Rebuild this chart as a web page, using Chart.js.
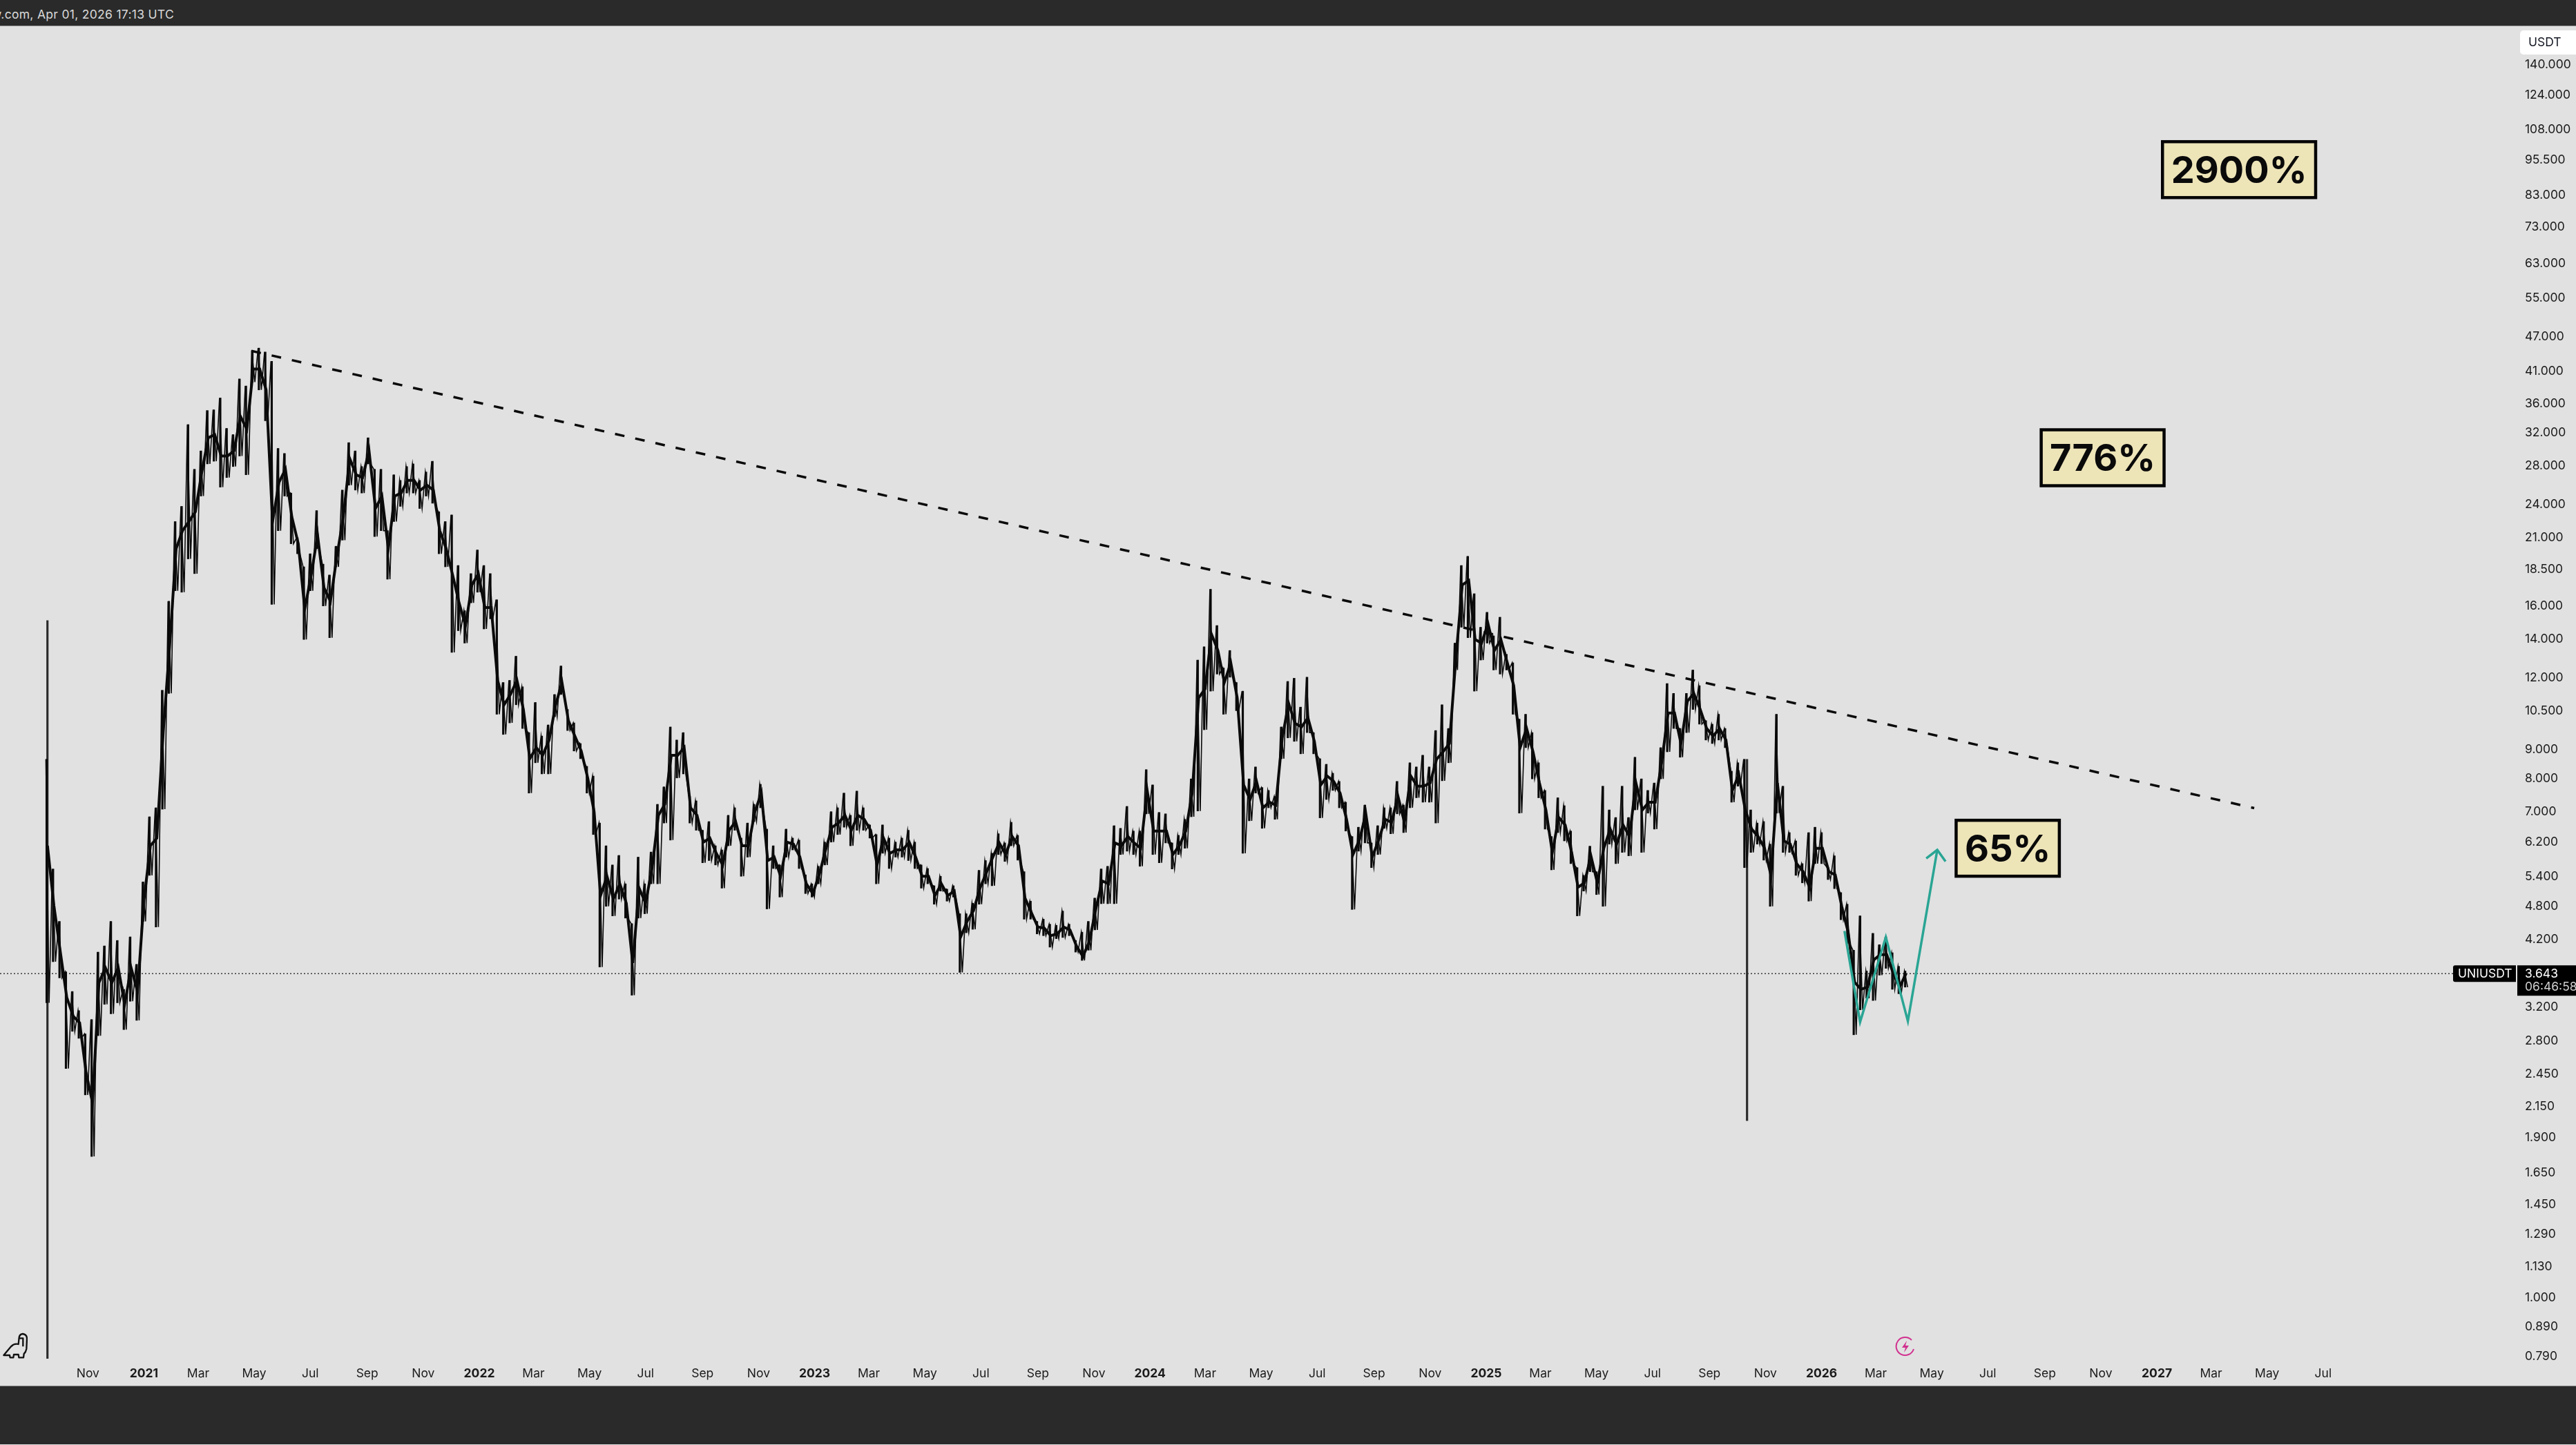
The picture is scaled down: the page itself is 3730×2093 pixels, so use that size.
<!DOCTYPE html>
<html>
<head>
<meta charset="utf-8">
<title>UNIUSDT</title>
<script src="https://cdn.jsdelivr.net/npm/chart.js@4"></script>
<style>
  html, body { margin:0; padding:0; background:#e1e1e1; overflow:hidden; }
  body { width:3730px; height:2093px; position:relative; font-family:Inter, "Liberation Sans", sans-serif; }
  #topbar { position:absolute; left:0; top:0; width:3730px; height:37px; background:#2a2a2a; border-bottom:1px solid #8a8a8a; overflow:hidden; }
  #stamp { position:absolute; right:3478px; top:10px; color:#d9d9d9; font-size:17.5px; line-height:22px; white-space:nowrap; letter-spacing:.3px; }
  #botbar { position:absolute; left:0; top:2007px; width:3730px; height:85px; background:#2a2a2a; border-top:1px solid #8a8a8a; box-sizing:border-box; }
  canvas { position:absolute; left:0; top:0; }
  svg { position:absolute; }
</style>
</head>
<body>
<canvas id="priceChart" width="3730" height="2093"></canvas>
<div id="topbar"><div id="stamp">TradingView.com, Apr 01, 2026 17:13 UTC</div></div>
<div id="botbar"></div>
<svg style="left:4px;top:1930px" width="36" height="39" viewBox="10 240 108 115" fill="none" stroke="#111" stroke-width="7" stroke-linejoin="round">
  <path d="M14 338 L46 300 Q60 285 78 290 L80 270 Q80 246 97 245 Q115 248 115 265 L113 310 Q110 325 102 332 L100 348 L80 348 L78 335 L58 335 L56 348 L42 348 L40 338 Z"/>
  <path d="M80 264 L98 264 L98 300"/>
</svg>
<svg style="left:2744px;top:1935px" width="30" height="30" viewBox="0 0 30 30" fill="none" stroke="#d1308f" stroke-width="2">
  <path d="M24 6 A13 13 0 1 0 27 19"/>
  <path d="M17 7 L10 17 L15 17 L13 24 L20 14 L15 14 Z" fill="#d1308f" stroke="none"/>
</svg>
<script>
// ====== data ======
// weekly candles, first one is the listing week. days are counted from 2021-01-01
const firstDay = -105;
const stepDays = 7;

const weekHighs = [
  8.60,5.54,4.49,3.67,3.39,3.14,2.86,3.03,3.97,4.07,4.49,4.16,3.42,4.22,3.78,5.26,6.83,7.08,11.34,16.2,
  22.3,23.7,32.9,27.5,29.6,34.8,34.9,36.6,32.4,31.6,39.5,38.4,44.3,44.7,44.0,42.4,29.9,29.3,25.0,20.9,
  18.6,19.6,23.3,18.8,18.0,20.2,25.3,30.6,29.6,27.8,31.2,27.5,27.5,21.5,26.9,26.3,27.8,28.1,26.3,27.2,
  28.4,23.2,22.3,22.9,18.7,15.6,18.1,19.9,18.7,18.1,16.3,11.7,11.8,13.0,11.5,9.57,10.8,9.44,9.87,11.15,
  12.5,10.5,9.95,9.16,8.36,8.04,6.66,6.08,5.63,5.85,5.22,4.45,5.81,5.22,5.93,7.18,7.70,9.79,9.29,9.57,
  7.41,7.28,6.47,6.70,6.08,5.98,6.87,7.08,6.27,6.66,7.18,7.78,6.50,6.08,5.63,6.50,6.27,6.22,5.41,5.22,
  5.60,6.17,6.97,7.08,7.51,6.87,7.57,7.08,6.61,6.36,6.61,6.27,6.17,6.27,6.47,6.17,5.63,5.55,5.18,5.38,
  5.11,5.18,4.63,4.63,4.83,5.51,5.73,5.90,6.38,6.15,6.68,6.34,5.48,4.87,4.49,4.53,4.44,4.42,4.68,4.44,
  4.16,4.30,4.49,4.93,5.54,5.60,6.59,6.52,7.12,6.45,6.45,8.25,7.76,6.95,6.91,6.15,6.34,6.76,7.95,12.8,
  13.5,17.0,14.7,12.4,13.3,11.7,11.3,7.95,8.34,7.68,7.59,7.41,9.79,11.75,11.9,10.6,11.95,9.57,8.62,8.43,
  8.13,7.87,7.24,6.31,6.55,7.16,6.15,6.59,7.08,7.08,7.87,7.16,8.48,8.34,8.74,8.34,9.65,10.7,9.73,13.7,
  18.7,19.4,16.7,14.6,15.5,14.1,15.2,13.1,12.66,10.1,10.3,9.57,8.48,7.59,6.31,7.37,7.14,6.45,5.57,5.40,
  6.07,5.48,7.72,7.02,6.81,7.72,6.81,8.67,7.95,7.59,7.82,9.01,11.65,11.2,9.73,11.2,12.3,11.55,10.04,9.90,
  10.3,9.73,8.20,8.48,8.60,7.02,6.66,6.70,6.12,10.3,7.72,6.41,6.20,5.66,6.41,6.55,6.41,5.57,5.84,5.04,
  4.81,4.00,4.59,3.68,4.28,4.09,4.22,3.96,3.75,3.68
];
const weekLows = [
  3.24,3.82,3.58,2.49,2.89,2.81,2.24,1.75,2.84,3.22,3.10,3.24,2.91,3.26,3.02,4.49,5.40,4.39,7.04,11.2,
  16.9,16.8,19.2,18.1,24.7,28.1,28.4,25.6,26.6,27.8,29.0,26.9,39.0,37.8,33.4,16.0,21.5,24.7,20.4,19.6,
  13.9,16.9,20.0,15.9,14.0,18.6,20.7,25.8,25.3,25.0,28.1,21.0,21.5,17.7,22.3,23.7,25.0,25.0,23.5,24.7,
  24.0,19.6,18.6,13.2,14.4,13.7,16.1,16.8,14.5,15.1,10.3,9.50,9.95,10.7,9.73,7.51,8.48,8.11,8.11,10.2,
  11.15,9.65,8.89,8.62,7.51,6.36,3.74,4.77,4.59,4.91,4.55,3.34,4.55,4.63,5.22,5.22,6.66,6.22,7.98,8.11,
  6.66,6.47,5.68,5.73,5.63,5.13,6.08,6.47,5.38,5.81,6.70,7.08,4.72,5.55,4.95,5.81,5.98,5.55,5.02,4.95,
  5.22,5.63,6.17,6.36,6.55,6.08,6.47,6.47,6.27,5.22,5.90,5.55,5.81,5.81,5.73,5.55,5.13,5.22,4.81,5.07,
  4.87,4.95,3.66,4.29,4.35,4.81,5.22,5.18,5.87,5.71,6.08,5.74,4.53,4.53,4.27,4.24,4.05,4.19,4.21,4.24,
  3.97,3.84,4.00,4.34,4.82,4.82,4.82,5.87,5.95,5.87,5.60,6.91,5.87,5.68,6.15,5.54,5.87,6.02,6.83,6.99,
  9.68,11.3,12.1,10.3,11.95,10.45,5.90,6.72,7.51,6.52,7.08,6.76,8.62,9.37,9.24,8.79,9.57,8.79,6.80,7.32,
  7.59,7.08,6.45,4.71,5.95,6.15,5.57,5.87,6.52,6.38,6.91,6.41,7.08,7.37,7.24,7.24,6.66,7.89,8.48,12.3,
  14.6,14.0,11.3,12.8,13.7,12.3,12.1,12.3,10.3,6.93,9.01,7.95,7.37,6.50,5.52,6.41,6.20,5.66,4.59,5.07,
  5.48,5.00,4.77,6.12,5.66,5.92,5.84,7.02,5.92,6.93,6.50,7.95,8.86,9.73,8.67,9.57,10.5,9.90,9.29,9.16,
  9.29,9.01,7.24,7.72,5.57,5.92,6.12,5.74,4.77,6.93,5.92,5.92,5.40,5.24,4.87,5.66,5.66,5.31,5.12,4.52,
  4.11,2.85,3.15,3.30,3.27,3.62,3.72,3.42,3.36,3.45
];
const weekCloses = [
  6.08,4.78,3.97,3.31,3.07,2.99,2.45,2.17,3.51,3.73,3.51,3.73,3.22,3.73,3.39,4.89,6.08,6.27,9.60,13.6,
  20.0,21.5,22.3,23.2,27.2,31.2,31.6,29.0,29.0,29.6,34.0,32.3,41.1,41.1,37.8,22.3,26.1,27.5,22.7,20.4,
  15.7,18.0,21.1,17.1,16.2,19.4,22.7,28.7,26.9,26.6,29.6,23.5,24.7,20.0,24.7,25.0,26.3,26.3,25.3,25.8,
  25.3,21.5,20.0,18.0,16.1,14.7,17.3,18.1,15.8,15.8,11.8,10.7,11.15,11.8,10.5,8.62,9.01,8.74,9.29,10.67,
  11.7,10.04,9.44,8.89,7.98,6.97,4.98,5.38,4.91,5.22,4.83,3.80,5.13,4.83,5.55,6.87,7.18,8.74,8.74,9.01,
  7.08,6.87,6.17,6.27,5.90,5.63,6.47,6.70,6.08,6.08,6.97,7.51,5.73,5.81,5.38,6.17,6.12,5.81,5.22,5.02,
  5.41,5.98,6.55,6.66,6.87,6.47,6.87,6.76,6.47,5.63,6.27,5.90,5.98,5.98,6.17,5.81,5.38,5.38,4.98,5.22,
  4.98,5.07,4.22,4.49,4.69,5.13,5.46,5.81,6.15,5.87,6.31,6.08,4.93,4.65,4.39,4.37,4.24,4.27,4.39,4.34,
  4.07,3.90,4.14,4.71,5.28,5.22,6.15,6.08,6.31,6.15,6.02,7.59,6.45,6.45,6.45,5.87,6.08,6.45,7.51,11.0,
  11.4,14.2,13.3,11.7,12.66,11.0,7.76,7.32,7.87,7.08,7.24,7.16,9.37,10.76,9.93,9.79,10.15,9.24,7.76,8.04,
  7.87,7.51,6.76,5.87,6.22,6.91,5.81,6.22,6.76,6.68,7.41,6.68,8.04,7.72,7.72,7.82,8.60,8.86,9.16,12.9,
  17.3,17.6,13.9,13.7,14.8,13.3,13.9,12.66,11.55,9.01,9.73,8.86,7.82,7.02,5.92,6.81,6.61,5.92,5.15,5.24,
  5.84,5.24,6.02,6.50,6.12,6.61,6.31,7.82,7.02,7.24,7.24,8.48,10.35,10.35,9.16,10.85,11.2,10.5,9.73,9.44,
  9.73,9.29,7.59,8.09,7.02,6.50,6.31,6.02,5.40,7.82,6.20,6.12,5.66,5.48,5.15,6.02,6.02,5.48,5.41,4.77,
  4.30,3.52,3.42,3.45,3.85,3.93,3.93,3.65,3.45,3.643
];

// the long single wicks
const spikeDays = [-106, 1744];
const spikeHighs = [15.0, 8.60];
const spikeLows = [0.778, 2.02];

// drawings
const trendDays = [117, 2297];
const trendPrices = [44.2, 7.07];
const pathDays = [1851, 1868, 1896, 1920, 1952];
const pathPrices = [4.32, 3.00, 4.215, 3.01, 5.98];
const arrowDays = [1940, 1952, 1961];
const arrowPrices = [5.78, 5.98, 5.71];

const noteTexts = ["2900%", "776%", "65%"];
const noteDays = [2280.5, 2132, 2028.7];
const notePrices = [91.4, 28.8, 6.02];

const lastPrice = 3.643;
const countdown = "06:46:58";

// axes
const priceTicks = [140,124,108,95.5,83,73,63,55,47,41,36,32,28,24,21,18.5,16,14,12,10.5,9,8,7,6.2,5.4,4.8,4.2,3.2,2.8,2.45,2.15,1.9,1.65,1.45,1.29,1.13,1,0.89,0.79];
const timeLabels = ["Nov","2021","Mar","May","Jul","Sep","Nov","2022","Mar","May","Jul","Sep","Nov","2023","Mar","May","Jul","Sep","Nov","2024","Mar","May","Jul","Sep","Nov","2025","Mar","May","Jul","Sep","Nov","2026","Mar","May","Jul","Sep","Nov","2027","Mar","May","Jul"];
const timeDays = [-61,0,59,120,181,243,304,365,424,485,546,608,669,730,789,850,911,973,1034,1095,1155,1216,1277,1339,1400,1461,1520,1581,1642,1704,1765,1826,1885,1946,2007,2069,2130,2191,2250,2311,2372];

// ====== settings ======
const FONT = 'Inter, "Liberation Sans", sans-serif';
const INK = '#0a0a0a';
const xMin = -156.7, xMax = 2582.6;
const yMin = 0.778, yMax = 162.4;

// ====== plugin for the notes and price tags ======
function roundBox(ctx, x, y, w, h, r, color){
  ctx.fillStyle = color;
  ctx.beginPath();
  ctx.roundRect(x, y, w, h, r);
  ctx.fill();
}

const overlay = {
  id: 'overlay',
  afterDraw(chart){
    const {ctx, scales:{x, y}} = chart;
    ctx.save();

    // boxed percentages
    noteTexts.forEach((t, i) => {
      const cx = x.getPixelForValue(noteDays[i]);
      const cy = y.getPixelForValue(notePrices[i]);
      ctx.font = '700 54px ' + FONT;
      const w = ctx.measureText(t).width + 25;
      const h = 81;
      ctx.fillStyle = '#ede4b8';
      ctx.strokeStyle = '#050505';
      ctx.lineWidth = 4.5;
      ctx.fillRect(cx - w/2, cy - h/2, w, h);
      ctx.strokeRect(cx - w/2, cy - h/2, w, h);
      ctx.fillStyle = INK;
      ctx.textAlign = 'center';
      ctx.textBaseline = 'middle';
      ctx.fillText(t, cx, cy + 3);
    });

    // USDT and last price tags
    const py = y.getPixelForValue(lastPrice);
    const right = x.right;
    ctx.font = '17.5px ' + FONT;
    ctx.textAlign = 'left';
    ctx.textBaseline = 'middle';
    roundBox(ctx, right + 5, 44, 90, 35, [5,0,0,5], '#ffffff');
    ctx.fillStyle = '#131722';
    ctx.fillText('USDT', right + 17, 62);
    roundBox(ctx, right - 92, py - 12, 91, 24, [3,0,0,3], '#000000');
    ctx.fillStyle = '#ffffff';
    ctx.fillText('UNIUSDT', right - 85, py + 1);
    roundBox(ctx, right + 1, py - 12, 90, 44, 0, '#000000');
    ctx.fillStyle = '#ffffff';
    ctx.fillText(lastPrice.toFixed(3), right + 12, py + 1);
    ctx.fillStyle = '#cfcfcf';
    ctx.fillText(countdown, right + 12, py + 20);
    ctx.restore();
  }
};

// ====== chart ======
const weekDay = i => firstDay + i * stepDays;

// every week goes from its high to its low, so the weeks read as a scribble of candles
const swingPoints = [];
weekHighs.forEach((h, i) => {
  swingPoints.push({x: weekDay(i) - 1.75, y: h});
  swingPoints.push({x: weekDay(i) + 1.75, y: weekLows[i]});
});

const ctx = document.getElementById('priceChart').getContext('2d');
new Chart(ctx, {
  data: {
    datasets: [
      {
        type: 'line',
        label: 'last price',
        data: [{x:xMin, y:lastPrice}, {x:xMax, y:lastPrice}],
        borderColor: '#3a3a3a',
        borderWidth: 1.5,
        borderDash: [2, 3],
        pointRadius: 0,
        order: 6
      },
      {
        type: 'bar',
        label: 'UNIUSDT range',
        data: weekHighs.map((h, i) => ({x: weekDay(i), y: [weekLows[i], h]})),
        backgroundColor: INK,
        barThickness: 2.5,
        order: 5
      },
      {
        type: 'bar',
        label: 'UNIUSDT wicks',
        data: spikeDays.map((d, i) => ({x: d, y: [spikeLows[i], spikeHighs[i]]})),
        backgroundColor: '#2b2b2b',
        barThickness: 2.5,
        order: 5
      },
      {
        type: 'line',
        label: 'UNIUSDT swing',
        data: swingPoints,
        borderColor: INK,
        borderWidth: 1.6,
        pointRadius: 0,
        tension: 0,
        order: 4
      },
      {
        type: 'line',
        label: 'UNIUSDT close',
        data: weekCloses.map((c, i) => ({x: weekDay(i), y: c})),
        borderColor: INK,
        borderWidth: 4,
        borderJoinStyle: 'miter',
        pointRadius: 0,
        tension: 0,
        order: 3
      },
      {
        type: 'line',
        label: 'trend',
        data: trendDays.map((d, i) => ({x: d, y: trendPrices[i]})),
        borderColor: INK,
        borderWidth: 3.5,
        borderDash: [14, 16],
        pointRadius: 0,
        order: 2
      },
      {
        type: 'line',
        label: 'path',
        data: pathDays.map((d, i) => ({x: d, y: pathPrices[i]})),
        borderColor: '#2aa594',
        borderWidth: 3.5,
        pointRadius: 0,
        tension: 0,
        order: 1
      },
      {
        type: 'line',
        label: 'arrow',
        data: arrowDays.map((d, i) => ({x: d, y: arrowPrices[i]})),
        borderColor: '#2aa594',
        borderWidth: 3.5,
        pointRadius: 0,
        tension: 0,
        order: 1
      }
    ]
  },
  options: {
    responsive: false,
    animation: false,
    devicePixelRatio: 1,
    layout: { padding: { left:0, right:0, top:38, bottom:86 } },
    plugins: { legend:{ display:false }, tooltip:{ enabled:false } },
    scales: {
      x: {
        type: 'linear',
        offset: false,
        min: xMin,
        max: xMax,
        grid: { display:false, drawTicks:false },
        border: { display:false },
        afterBuildTicks(scale){ scale.ticks = timeDays.map(v => ({value:v})); },
        afterFit(scale){ scale.height = 39; },
        ticks: {
          autoSkip: false,
          maxRotation: 0,
          padding: 11,
          color: '#1a1a1a',
          font: c => ({
            family: FONT,
            size: 17.5,
            weight: /^\d{4}$/.test(timeLabels[c.index]) ? '700' : '400'
          }),
          callback: (v, i) => timeLabels[i]
        }
      },
      y: {
        type: 'logarithmic',
        position: 'right',
        min: yMin,
        max: yMax,
        grid: { display:false, drawTicks:false },
        border: { display:false },
        afterBuildTicks(scale){ scale.ticks = priceTicks.map(v => ({value:v})); },
        afterFit(scale){ scale.width = 86; },
        ticks: {
          autoSkip: false,
          crossAlign: 'near',
          padding: 12,
          labelOffset: 2,
          color: '#1a1a1a',
          font: { family: FONT, size: 17.5 },
          callback: v => Number(v).toFixed(3)
        }
      }
    }
  },
  plugins: [overlay]
});
</script>
</body>
</html>
